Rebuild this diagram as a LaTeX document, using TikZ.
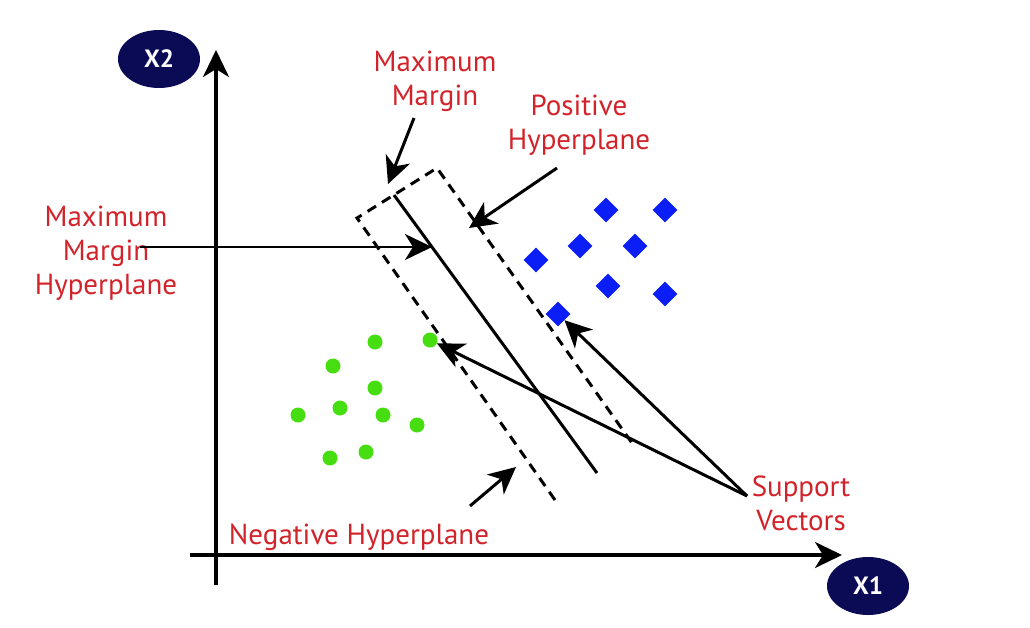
\documentclass[tikz,border=0pt]{standalone}
\usepackage{fontspec}
\setmainfont{PT Sans}
\usetikzlibrary{arrows.meta,shapes.geometric}
\definecolor{svmred}{HTML}{D2232A}
\definecolor{svmnavy}{HTML}{0B0A55}
\definecolor{svmgreen}{HTML}{46DE10}
\definecolor{svmblue}{HTML}{0A1EF5}
\begin{document}
\begin{tikzpicture}[x=1pt,y=-1pt,
  lbl/.style={text=svmred,align=center,font=\fontsize{29}{34}\selectfont},
  axlbl/.style={ellipse,fill=svmnavy,text=white,font=\fontsize{25}{25}\selectfont\bfseries,minimum width=82pt,minimum height=58pt,inner sep=0pt},
  arr/.style={-{Stealth[length=27pt,width=26pt,inset=8pt]},line width=3pt},
  dot/.style={circle,fill=svmgreen,minimum size=15pt,inner sep=0pt},
  dia/.style={diamond,fill=svmblue,minimum size=25pt,inner sep=0pt}]
\useasboundingbox (0,0) rectangle (1030,627);
% axes
\coordinate (ybot) at (216,585);
\coordinate (ytop) at (216,50);
\coordinate (xleft) at (190,555);
\coordinate (xright) at (842,555);
\draw[arr,line width=3.4pt] (ybot) -- (ytop);
\draw[arr,line width=3.4pt] (xleft) -- (xright);
\node[axlbl] (x2) at (159,59) {X2};
\node[axlbl] (x1) at (868,586) {X1};
% margin box and hyperplane
\coordinate (nb) at (555,500);
\coordinate (nt) at (357,218);
\coordinate (pt) at (437,168);
\coordinate (pb) at (632,443);
\draw[line width=3pt,dash pattern=on 10pt off 7pt] (nb) -- (nt) -- (pt) -- (pb);
\coordinate (ht) at (394,195);
\coordinate (hb) at (597,473);
\draw[line width=3pt] (ht) -- (hb);
% data points
\foreach \x/\y [count=\n] in {375/342,430/340,333/366,375/388,298/415,340/408,383/415,417/425,330/458,366/452}
  \node[dot] (g\n) at (\x,\y) {};
\foreach \x/\y [count=\n] in {606/210,665/210,580/246,635/246,536/260,608/286,665/294,558/314}
  \node[dia] (b\n) at (\x,\y) {};
% labels
\node[lbl] (mm) at (435,81) {Maximum\\Margin};
\node[lbl] (ph) at (579,125) {Positive\\Hyperplane};
\node[lbl] (mmh) at (106,253) {Maximum\\Margin\\Hyperplane};
\node[lbl] (nh) at (359,537) {Negative Hyperplane};
\node[lbl] (sv) at (801,503) {Support\\Vectors};
% pointers
\coordinate (mms) at (414,118);
\coordinate (mme) at (388,184);
\coordinate (phs) at (557,168);
\coordinate (phe) at (469,228);
\coordinate (mmhs) at (140,247);
\coordinate (mmhe) at (432,247);
\coordinate (nhs) at (470,506);
\coordinate (nhe) at (516,467);
\coordinate (svs) at (747,496);
\draw[arr] (mms) -- (mme);
\draw[arr] (phs) -- (phe);
\draw[arr,line width=2.4pt] (mmhs) -- (mmhe);
\draw[arr] (nhs) -- (nhe);
\draw[arr] (svs) -- (g2);
\draw[arr] (svs) -- (b8);
\end{tikzpicture}
\end{document}
